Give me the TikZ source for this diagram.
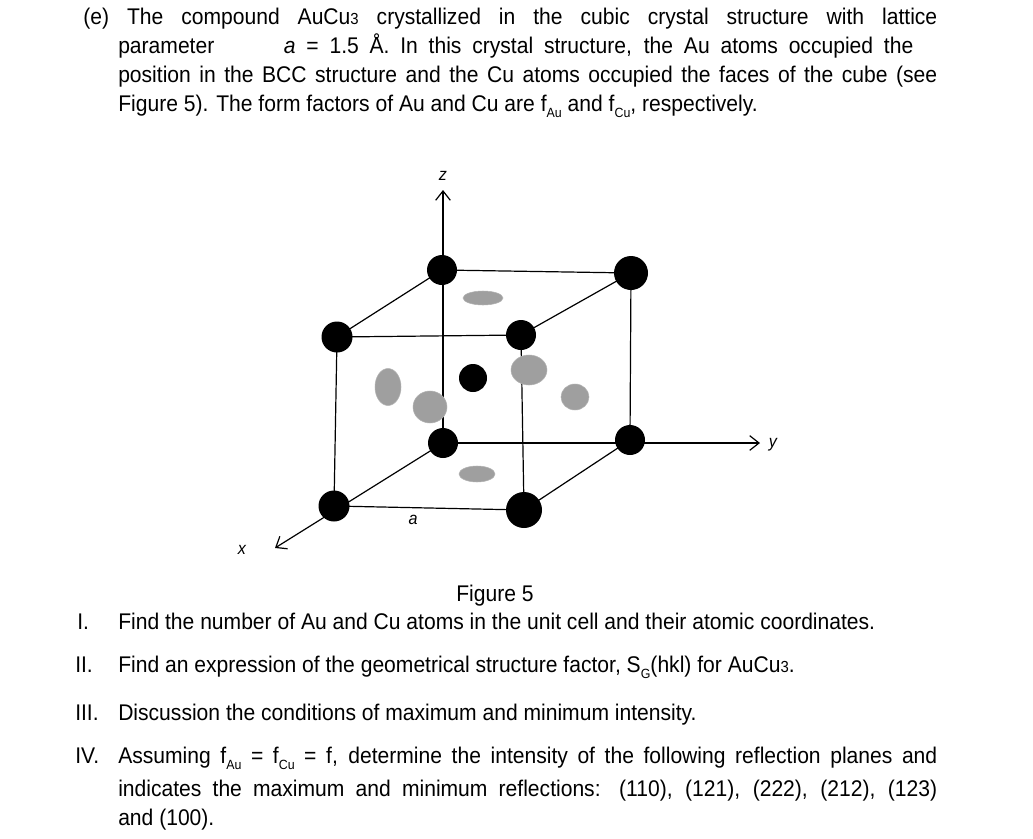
\documentclass[tikz,border=0pt]{standalone}
\usepackage{fontspec}
\usetikzlibrary{arrows.meta,shapes.geometric}
\setmainfont[FakeStretch=0.93]{Liberation Sans}
\setsansfont{Liberation Sans}
\newcommand{\sbl}[1]{\raisebox{-5pt}{\fontsize{10}{10}\selectfont #1}}
\newcommand{\smallthree}{{\fontsize{12}{12}\selectfont 3}}
\begin{document}
\begin{tikzpicture}[x=0.75pt,y=-0.75pt,
  txt/.style={anchor=base west,inner sep=0pt,font=\fontsize{17}{19}\selectfont},
  au/.style={circle,fill=black,inner sep=0pt,minimum size=#1*0.75pt},
  cu/.style={ellipse,fill=gray!75,draw=gray!60,inner sep=0pt},
  edge/.style={line width=0.9pt},
  axis/.style={line width=0.9pt,-{Straight Barb[length=7pt,width=11pt]}},
  lab/.style={font=\itshape\fontsize{13}{13}\selectfont\rmfamily}]
\useasboundingbox (0,0) rectangle (1033,839);
% text
\node[txt] (t1) at (83,24) {\makebox[640.5pt][s]{(e) The compound AuCu\smallthree{} crystallized in the cubic crystal structure with lattice}};
\node[txt] (t2) at (118,53) {\makebox[596.25pt][s]{parameter \hspace{36pt} \textit{a} = 1.5 Å. In this crystal structure, the Au atoms occupied the}};
\node[txt] (t3) at (118,82) {\makebox[614.25pt][s]{position in the BCC structure and the Cu atoms occupied the faces of the cube (see}};
\node[txt] (t4) at (118,111) {Figure 5). The form factors of Au and Cu are f\sbl{Au} and f\sbl{Cu}, respectively.};
% cube coordinates
\coordinate (O) at (443,443);
\coordinate (A) at (630,440);
\coordinate (B) at (524,510);
\coordinate (C) at (334,506);
\coordinate (D) at (442,270);
\coordinate (E) at (631,273);
\coordinate (F) at (521,335);
\coordinate (G) at (337,337);
\coordinate (zt) at (443,190);
\coordinate (yt) at (760,443);
\coordinate (xt) at (275,548);
\draw[axis] (O) -- (zt);
\draw[axis] (O) -- (yt);
\draw[axis] (O) -- (xt);
\draw[edge] (C) -- (B) -- (A) (G) -- (F) -- (E) -- (D) -- (G) -- (C) (B) -- (F) (A) -- (E);
\node[lab] (zl) at (443,176) {z};
\node[lab] (yl) at (773,445) {y};
\node[lab] (xl) at (242,550) {x};
\node[lab] (al) at (413,520) {a};
% Cu atoms
\node[cu,minimum width=30pt,minimum height=10.5pt] (c1) at (483,298) {};
\node[cu,minimum width=27pt,minimum height=12pt] (c2) at (477,474) {};
\node[cu,minimum width=19.5pt,minimum height=27.75pt] (c3) at (388,387) {};
\node[cu,minimum width=25.5pt,minimum height=24pt] (c4) at (430,407) {};
\node[cu,minimum width=27pt,minimum height=22.5pt] (c5) at (529,370) {};
\node[cu,minimum width=21pt,minimum height=19.5pt] (c6) at (575,397) {};
% Au atoms
\node[au=30] (a1) at (O) {};
\node[au=30] (a2) at (A) {};
\node[au=36] (a3) at (B) {};
\node[au=31] (a4) at (C) {};
\node[au=30] (a5) at (D) {};
\node[au=34] (a6) at (E) {};
\node[au=30] (a7) at (F) {};
\node[au=31] (a8) at (G) {};
\node[au=28] (a9) at (473,378) {};
% bottom text
\node[txt] (fig) at (456,601) {Figure 5};
\node[txt] (n1) at (77,629) {I.};
\node[txt] (q1) at (118,629) {Find the number of Au and Cu atoms in the unit cell and their atomic coordinates.};
\node[txt] (n2) at (75,672) {II.};
\node[txt] (q2) at (118,672) {Find an expression of the geometrical structure factor, S\sbl{G}(hkl) for AuCu\smallthree.};
\node[txt] (n3) at (75,720) {III.};
\node[txt] (q3) at (118,720) {Discussion the conditions of maximum and minimum intensity.};
\node[txt] (n4) at (75,763) {IV.};
\node[txt] (q4) at (118,763) {\makebox[614.25pt][s]{Assuming f\sbl{Au} = f\sbl{Cu} = f, determine the intensity of the following reflection planes and}};
\node[txt] (q5) at (118,796) {\makebox[614.25pt][s]{indicates the maximum and minimum reflections: (110), (121), (222), (212), (123)}};
\node[txt] (q6) at (118,825) {and (100).};
\end{tikzpicture}
\end{document}
